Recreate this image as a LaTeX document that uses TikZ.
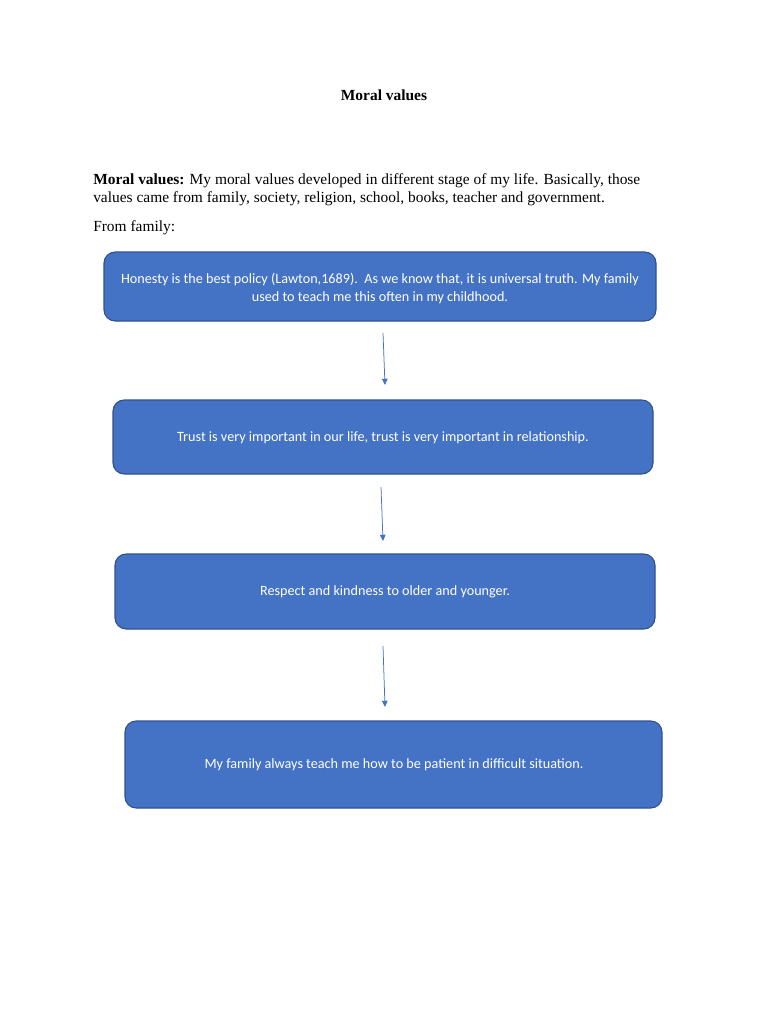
\documentclass[tikz,border=0pt]{standalone}
\usepackage{fontspec}
\setmainfont{Liberation Serif}
\newfontfamily\boxfont{Carlito}
\usetikzlibrary{arrows.meta}
\definecolor{boxblue}{HTML}{4472C4}
\definecolor{boxedge}{HTML}{2F528F}
\tikzset{
  flowbox/.style={draw=boxedge, line width=0.9pt, fill=boxblue, rounded corners=9pt},
  boxtext/.style={text=white, font=\boxfont\fontsize{11.35}{14.4}\selectfont, align=center},
  bodytext/.style={anchor=base west, inner sep=0pt, font=\fontsize{12.35}{14.4}\selectfont},
  flowarrow/.style={draw=boxblue, line width=0.6pt, -{Triangle[length=5pt,width=4.5pt]}}
}
\begin{document}
\begin{tikzpicture}[x=0.8pt,y=-0.8pt]
\useasboundingbox (0,0) rectangle (768,1024);
\node[anchor=base, inner sep=0pt, font=\bfseries\fontsize{12.35}{14.4}\selectfont] (title) at (384,101) {Moral values};
\node[bodytext] (p1) at (93,185) {\textbf{Moral values:} My moral values developed in different stage of my life. Basically, those};
\node[bodytext] (p2) at (93,203) {values came from family, society, religion, school, books, teacher and government.};
\node[bodytext] (p3) at (93,231) {From family:};

\path[flowbox] (104,252) rectangle (656,321);
\node[boxtext] (b1) at (380,288.5) {Honesty is the best policy (Lawton,1689).~~As we know that, it is universal truth. My family\\used to teach me this often in my childhood.};
\path[flowbox] (113,400) rectangle (653,474);
\node[boxtext] (b2) at (383,438) {Trust is very important in our life, trust is very important in relationship.};
\path[flowbox] (115,554) rectangle (655,629);
\node[boxtext] (b3) at (385,592) {Respect and kindness to older and younger.};
\path[flowbox] (125,721) rectangle (662,808);
\node[boxtext] (b4) at (394,765) {My family always teach me how to be patient in difficult situation.};

\coordinate (a1s) at (383,333); \coordinate (a1e) at (385,385);
\coordinate (a2s) at (381,487); \coordinate (a2e) at (383,541);
\coordinate (a3s) at (383,646); \coordinate (a3e) at (385,707);
\draw[flowarrow] (a1s) -- (a1e);
\draw[flowarrow] (a2s) -- (a2e);
\draw[flowarrow] (a3s) -- (a3e);
\end{tikzpicture}
\end{document}
